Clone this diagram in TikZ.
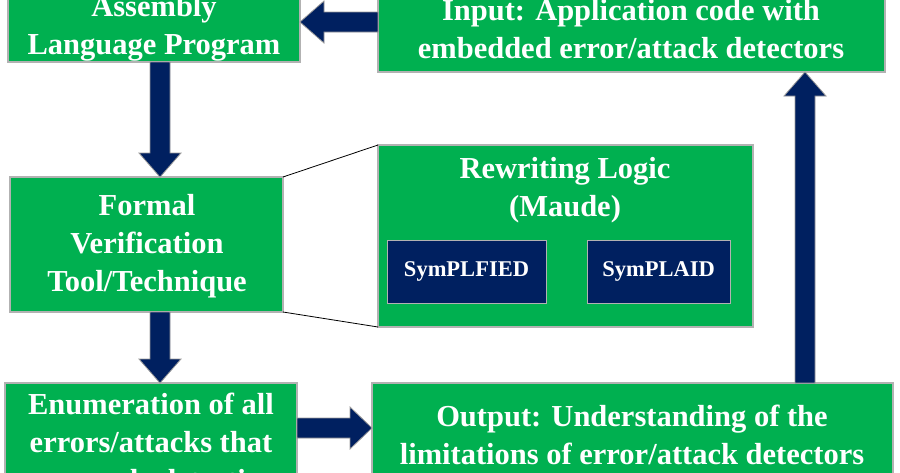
\documentclass[tikz,border=0pt]{standalone}
\usepackage{fontspec}
\setmainfont{Liberation Serif}
\definecolor{gr}{HTML}{00B050}
\definecolor{nv}{HTML}{002060}
\begin{document}
\begin{tikzpicture}[x=1pt,y=-1pt,
 box/.style={draw=black!30,line width=1.2pt,fill=gr},
 txt/.style={text=white,font=\bfseries\fontsize{30.5}{38}\selectfont,align=center},
 inner/.style={draw=black!30,line width=1pt,fill=nv,text=white,font=\bfseries\fontsize{22.5}{24}\selectfont},
 arr/.style={draw=black!40,line width=0.8pt,fill=nv}]
\useasboundingbox (0,0) rectangle (900,472);
\clip (0,0) rectangle (900,472);
\fill[white] (0,0) rectangle (900,472);
% boxes
\draw[box] (8,-5) rectangle (300,62);
\node[txt] (asm) at (154,28) {Assembly\\Language Program};
\draw[box] (378,-5) rectangle (885,72);
\node[txt] (inp) at (631,29) {Input: Application code with\\embedded error/attack detectors};
\draw[box] (10,177) rectangle (283,312);
\node[txt] (fv) at (147,246) {Formal\\Verification\\Tool/Technique};
\draw[box] (378,145) rectangle (753,327);
\node[txt] (rw) at (565,190) {Rewriting Logic\\(Maude)};
\node[inner,minimum width=159pt,minimum height=63pt] (s1) at (466.5,271.5) {SymPLFIED};
\node[inner,minimum width=143pt,minimum height=63pt] (s2) at (658.5,271.5) {SymPLAID};
\draw[box] (5,383) rectangle (297,480);
\node[txt,anchor=north] (en) at (151,389) {Enumeration of all\\errors/attacks that\\can evade detection};
\draw[box] (372,383) rectangle (893,480);
\node[txt] (out) at (632,435) {Output: Understanding of the\\limitations of error/attack detectors};
% zoom lines
\draw[black,line width=0.8pt] (283,177) -- (378,145) (283,312) -- (378,327);
% arrows
\draw[arr] (378,12) -- (324,12) -- (324,1) -- (300,22) -- (324,43) -- (324,32) -- (378,32) -- cycle;
\draw[arr] (150,62) -- (170,62) -- (170,153) -- (181,153) -- (160,177) -- (139,153) -- (150,153) -- cycle;
\draw[arr] (150,312) -- (170,312) -- (170,359) -- (181,359) -- (160,383) -- (139,359) -- (150,359) -- cycle;
\draw[arr] (297,418) -- (350,418) -- (350,407) -- (372,428) -- (350,449) -- (350,438) -- (297,438) -- cycle;
\draw[arr] (795,383) -- (795,96) -- (784,96) -- (805,72) -- (826,96) -- (815,96) -- (815,383) -- cycle;
\end{tikzpicture}
\end{document}
